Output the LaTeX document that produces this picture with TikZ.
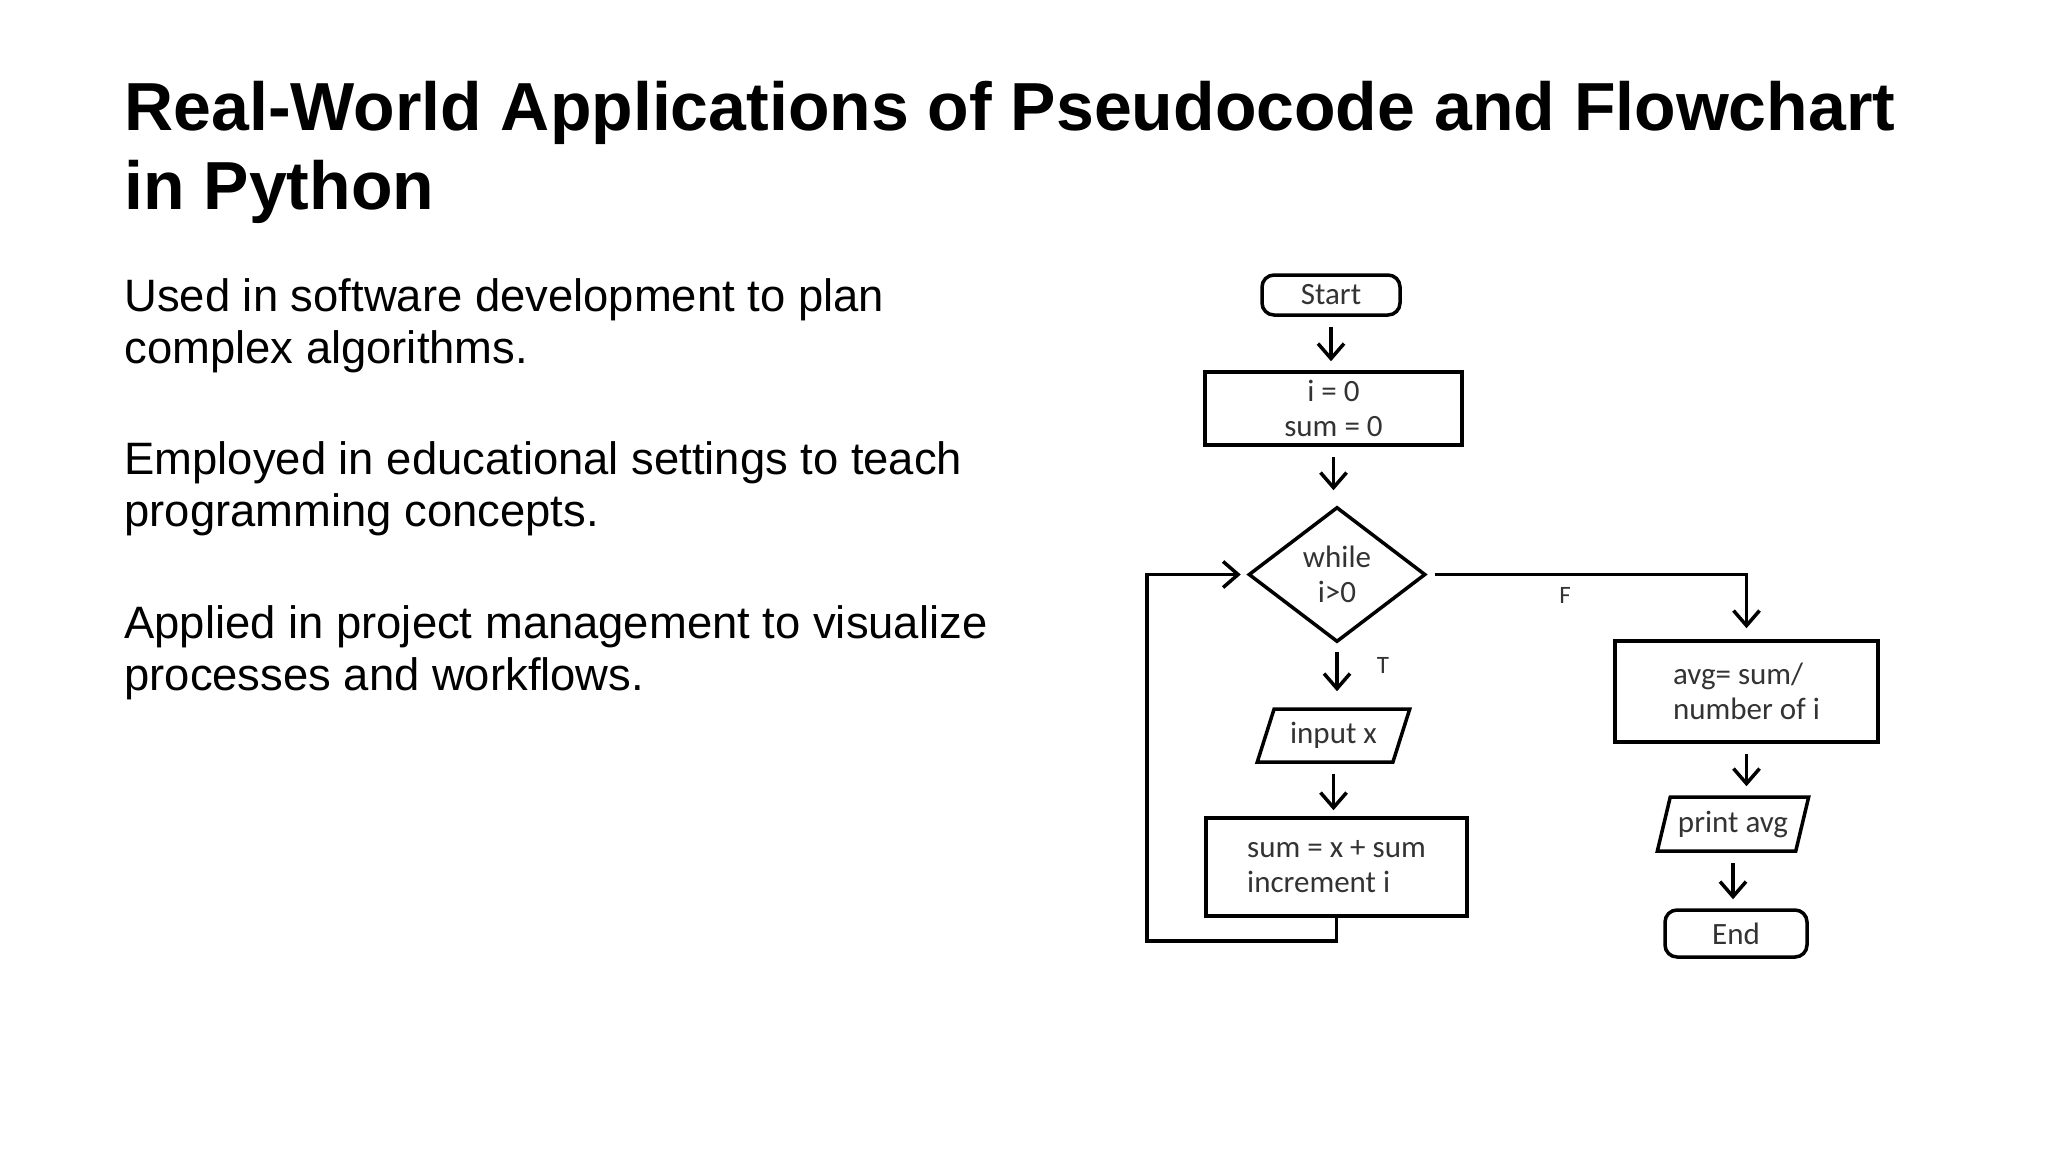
\documentclass[tikz,border=0pt]{standalone}
\usepackage{fontspec}
\setmainfont{Liberation Sans}
\newfontfamily\flowfont{Carlito}
\usetikzlibrary{arrows.meta,shapes.geometric,calc}
\definecolor{fctext}{HTML}{333333}
\begin{document}
\begin{tikzpicture}[x=0.5pt,y=-0.5pt,
  titletext/.style={anchor=base west, inner sep=0pt, align=left, font=\bfseries\fontsize{34}{39.5}\selectfont},
  bodytext/.style={anchor=base west, inner sep=0pt, align=left, font=\fontsize{22.7}{26}\selectfont},
  fc/.style={draw=black, line width=1.75pt, text=fctext, font=\flowfont\fontsize{15.5}{17.5}\selectfont, inner sep=0pt},
  termbox/.style={fc, rectangle, rounded corners=6pt},
  procbox/.style={fc, rectangle},
  decbox/.style={fc, diamond, aspect=1.31},
  iobox/.style={fc, trapezium, trapezium stretches=true},
  lbl/.style={text=fctext, font=\flowfont\fontsize{12.5}{14}\selectfont, inner sep=0pt},
  arr/.style={draw=black, line width=1.75pt, -{Straight Barb[length=7.5pt,width=13pt]}, shorten <=5pt, shorten >=4.5pt}
]
\useasboundingbox[fill=white] (0,0) rectangle (2048,1152);

% title and body (anchored at the baseline of the last line)
\node[titletext] (title) at (124,209) {Real-World Applications of Pseudocode and Flowchart\\in Python};
\node[bodytext] (p1) at (124,363) {Used in software development to plan\\complex algorithms.};
\node[bodytext] (p2) at (124,526) {Employed in educational settings to teach\\programming concepts.};
\node[bodytext] (p3) at (124,690) {Applied in project management to visualize\\processes and workflows.};

% flowchart
\node[termbox, minimum width=69pt, minimum height=20pt] (start) at (1331,295) {Start};
\node[procbox, minimum width=128.5pt, minimum height=36.5pt, align=center] (init) at (1333.5,408.5) {i = 0\\sum = 0};
\node[decbox, minimum width=88.5pt, minimum height=67.5pt, align=center] (dec) at (1337,574.5) {while\\i>0};
\node[iobox, trapezium left angle=65, trapezium right angle=115, minimum width=76.5pt, minimum height=26.5pt] (input) at (1333.5,735.5) {input x};
\node[procbox, minimum width=130.5pt, minimum height=49pt, align=left] (sum) at (1336.5,867) {sum = x + sum\\increment i};
\node[procbox, minimum width=131.5pt, minimum height=50.5pt, align=left] (avg) at (1746.5,691.5) {avg= sum/\\number of i};
\node[iobox, trapezium left angle=67, trapezium right angle=113, minimum width=76pt, minimum height=27pt] (print) at (1733,824) {print avg};
\node[termbox, minimum width=71pt, minimum height=23.5pt] (end) at (1736,933.5) {End};

\node[lbl] (tlab) at (1383,665) {T};
\node[lbl] (flab) at (1565,595) {F};
\coordinate (loopc) at (1147,941);

\draw[arr] (start.south) -- (start.south |- init.north);
\draw[arr, shorten >=7.5pt] (init.south) -- (init.south |- dec.north);
\draw[arr, shorten <=4pt, shorten >=8pt] (dec.south) -- (dec.south |- input.north);
\draw[arr, shorten >=3pt] (input.south) -- (input.south |- sum.north);
\draw[arr, shorten <=0pt, shorten >=3pt] (sum.south) |- (loopc) |- (dec.west);
\draw[arr, shorten <=4pt, shorten >=5.5pt] (dec.east) -| (avg.north);
\draw[arr] (avg.south) -- (avg.south |- print.north);
\draw[arr] (print.south) -- (print.south |- end.north);
\end{tikzpicture}
\end{document}
